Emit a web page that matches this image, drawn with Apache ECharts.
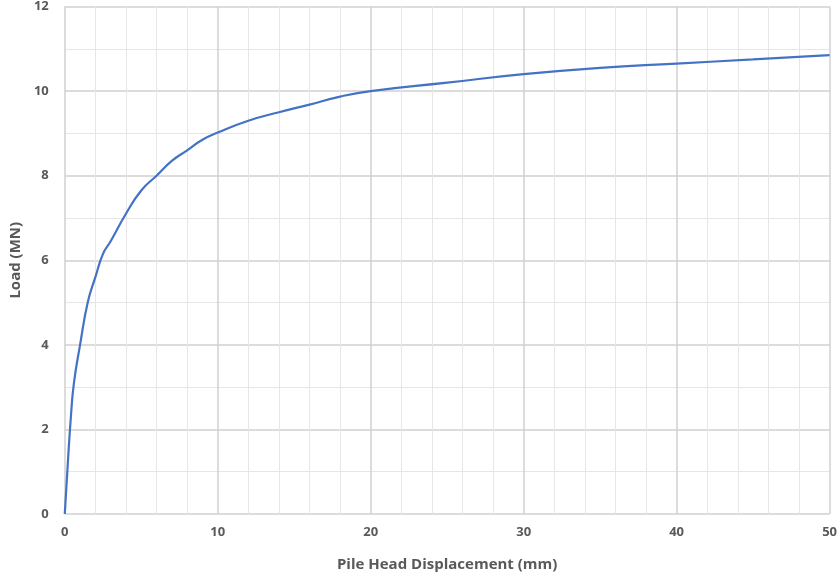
<!DOCTYPE html><html><head><meta charset="utf-8">
<script src="https://cdn.jsdelivr.net/npm/echarts@6/dist/echarts.min.js"></script>
<style>html,body{margin:0;background:#fff}#c{width:840px;height:577px}</style></head><body><div id="c"></div>
<script>
const displacement=[0,0.2,0.4,0.6,1,1.5,2,2.5,3,4,5,6,7,8,9,10,12,14,16,18,20,25,30,35,40,45,50];
const load=[0,1.2,2.3,3.1,4.0,5.0,5.6,6.15,6.45,7.1,7.65,8.0,8.35,8.6,8.85,9.02,9.3,9.5,9.68,9.87,10.0,10.2,10.4,10.55,10.65,10.75,10.85];
const tickFont={fontFamily:'Open Sans',fontSize:13,color:'#595959'};
const chart=echarts.init(document.getElementById('c'));
chart.setOption({
 animation:false,
 grid:{left:56,right:5,top:6,bottom:59,containLabel:false},
 xAxis:{type:'value',min:0,max:50,interval:10,
  name:'Pile Head Displacement (mm)',nameLocation:'middle',nameGap:43,
  nameTextStyle:{fontFamily:'Open Sans',fontSize:15,fontWeight:'bold',color:'#595959'},
  axisLine:{show:false},axisTick:{show:false},axisLabel:Object.assign({margin:12,fontWeight:'bold'},tickFont),
  splitLine:{lineStyle:{color:'#d0d0d0',width:1.5}},
  minorTick:{show:false,splitNumber:5},minorSplitLine:{show:true,lineStyle:{color:'#e6e6e6',width:1}}},
 yAxis:{type:'value',min:0,max:12,interval:2,
  name:'Load (MN)',nameLocation:'middle',nameGap:40,
  nameTextStyle:{fontFamily:'Open Sans',fontSize:15,fontWeight:'bold',color:'#595959'},
  axisLine:{show:false},axisTick:{show:false},axisLabel:Object.assign({margin:16,fontWeight:'bold'},tickFont),
  splitLine:{lineStyle:{color:'#d0d0d0',width:1.5}},
  minorTick:{show:false,splitNumber:2},minorSplitLine:{show:true,lineStyle:{color:'#e6e6e6',width:1}}},
 series:[{type:'line',data:displacement.map((d,i)=>[d,load[i]]),smooth:0.5,showSymbol:false,
  lineStyle:{color:'#4472C4',width:2.2}}]
});
</script></body></html>
